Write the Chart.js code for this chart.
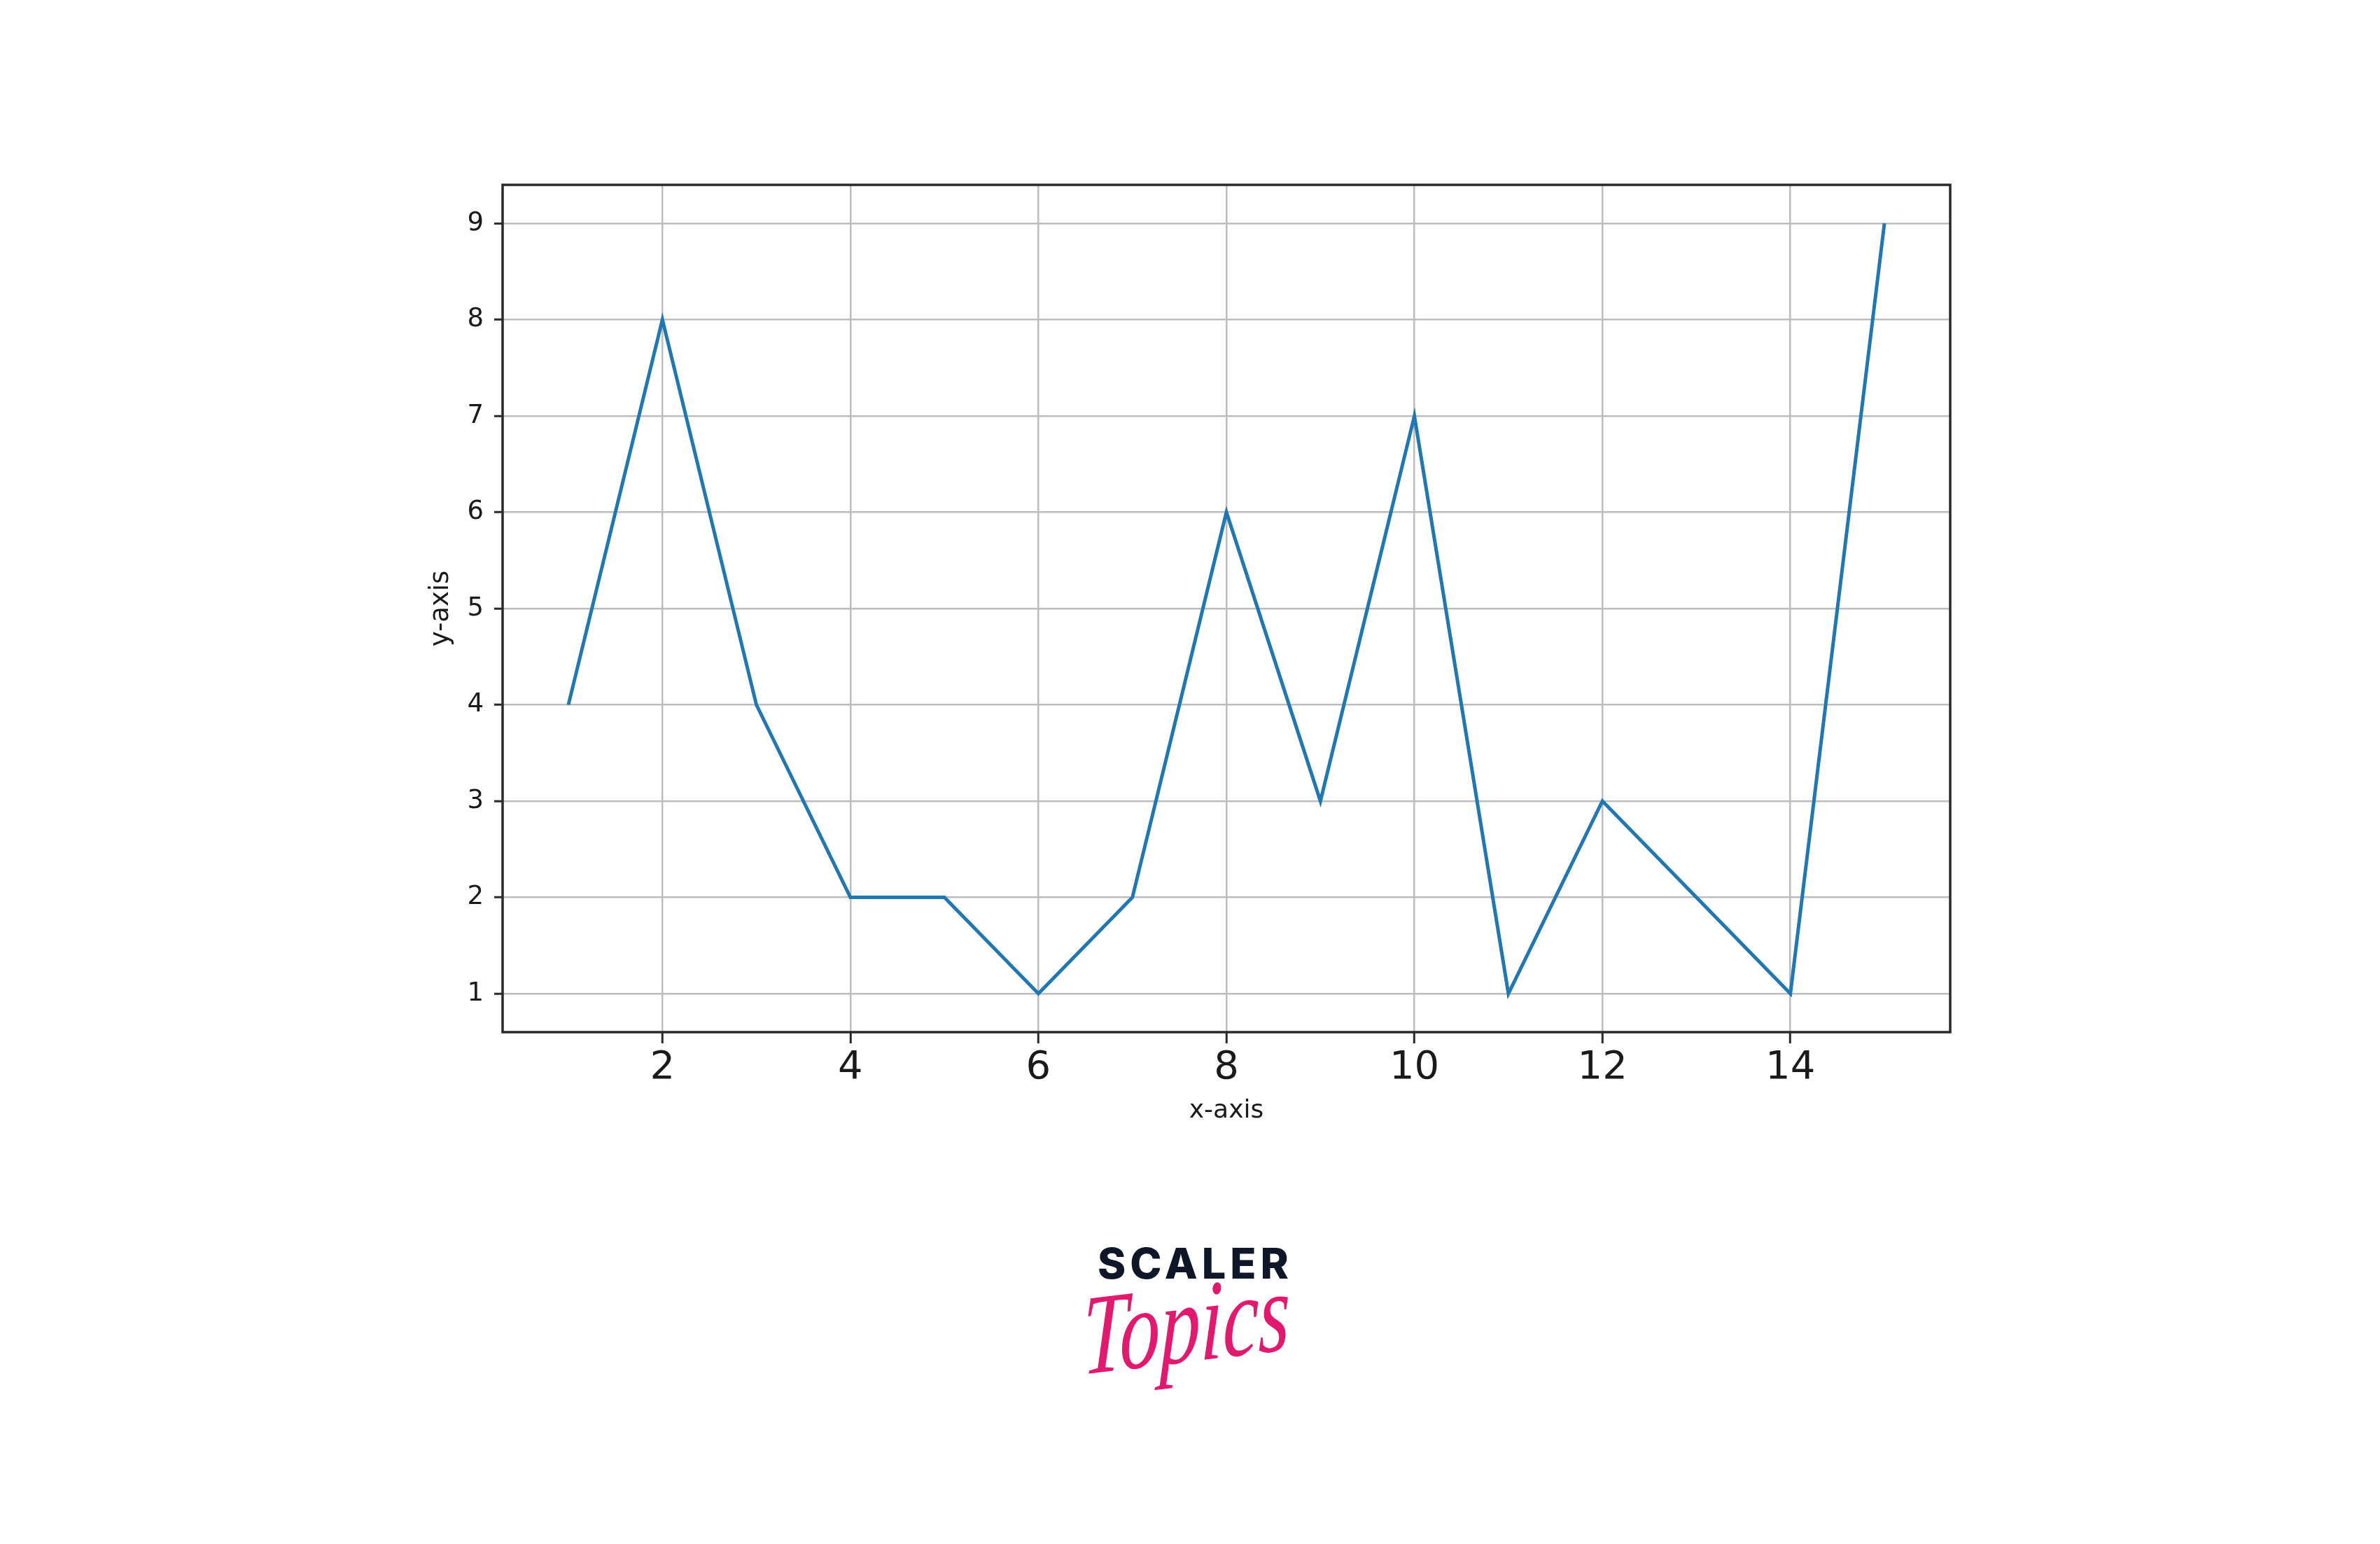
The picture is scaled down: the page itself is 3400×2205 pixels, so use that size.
<!DOCTYPE html>
<html>
<head>
<meta charset="utf-8">
<title>Line plot</title>
<script src="https://cdn.jsdelivr.net/npm/chart.js@4.4.1/dist/chart.umd.min.js"></script>
<style>
    html, body { margin: 0; padding: 0; background: #ffffff; }
    #wrap { position: relative; width: 3400px; height: 2205px; }
    #plot { position: absolute; left: 0; top: 0; }
    .brand-top {
        position: absolute; left: 1568px; top: 1774px;
        font-family: Inter, "DejaVu Sans", sans-serif; font-weight: 800;
        font-size: 61px; letter-spacing: 6px; color: #0e1628; line-height: 1;
    }
    .brand-bottom {
        position: absolute; left: 1548px; top: 1826px;
        font-family: "Liberation Serif", serif; font-style: italic;
        font-size: 116px; color: #e3196f; line-height: 1;
        transform: rotate(-7deg) skewX(-8deg) scaleY(1.4); transform-origin: left top;
    }
</style>
</head>
<body>
<div id="wrap">
    <canvas id="plot" width="3400" height="2205"></canvas>
    <div class="brand-top">SCALER</div>
    <div class="brand-bottom">Topics</div>
</div>
<script>
// data
const X_VALUES = [1, 2, 3, 4, 5, 6, 7, 8, 9, 10, 11, 12, 13, 14, 15];
const Y_VALUES = [4, 8, 4, 2, 2, 1, 2, 6, 3, 7, 1, 3, 2, 1, 9];
const X_TICKS = [2, 4, 6, 8, 10, 12, 14];
const Y_TICKS = [1, 2, 3, 4, 5, 6, 7, 8, 9];
const X_LABEL = 'x-axis';
const Y_LABEL = 'y-axis';

(function() {
    'use strict';

    const COLORS = {
        line: '#1f77b4',
        grid: '#bdbdbd',
        spine: '#2a2a2a',
        text: '#1a1a1a'
    };

    Chart.defaults.font.family = '"DejaVu Sans", sans-serif';
    Chart.defaults.color = COLORS.text;

    // matplotlib style frame around the plot area
    const frame = {
        id: 'frame',
        afterDraw: function(chart) {
            const a = chart.chartArea;
            const ctx = chart.ctx;
            ctx.save();
            ctx.strokeStyle = COLORS.spine;
            ctx.lineWidth = 3.5;
            ctx.strokeRect(a.left, a.top, a.right - a.left, a.bottom - a.top);
            ctx.restore();
        }
    };

    const ctx = document.getElementById('plot').getContext('2d');

    new Chart(ctx, {
        type: 'line',
        data: {
            datasets: [{
                data: X_VALUES.map((x, i) => ({ x: x, y: Y_VALUES[i] })),
                borderColor: COLORS.line,
                borderWidth: 5,
                pointRadius: 0,
                tension: 0,
                fill: false
            }]
        },
        options: {
            responsive: false,
            animation: false,
            devicePixelRatio: 1,
            layout: {
                padding: { left: 608, right: 614, top: 264, bottom: 597 }
            },
            plugins: {
                legend: { display: false },
                tooltip: { enabled: false }
            },
            scales: {
                x: {
                    type: 'linear',
                    min: 0.3,
                    max: 15.7,
                    afterBuildTicks: function(axis) {
                        axis.ticks = X_TICKS.map(v => ({ value: v }));
                    },
                    afterFit: function(axis) {
                        axis.height = 134;
                    },
                    border: { display: false },
                    grid: {
                        color: COLORS.grid,
                        lineWidth: 2.5,
                        tickLength: 16,
                        tickColor: COLORS.spine,
                        tickWidth: 3
                    },
                    ticks: {
                        padding: 2,
                        maxRotation: 0,
                        autoSkip: false,
                        font: { size: 56 },
                        callback: v => String(v)
                    },
                    title: {
                        display: true,
                        text: X_LABEL,
                        font: { size: 36 },
                        padding: 0
                    }
                },
                y: {
                    type: 'linear',
                    min: 0.6,
                    max: 9.4,
                    afterBuildTicks: function(axis) {
                        axis.ticks = Y_TICKS.map(v => ({ value: v }));
                    },
                    afterFit: function(axis) {
                        axis.width = 110;
                    },
                    border: { display: false },
                    grid: {
                        color: COLORS.grid,
                        lineWidth: 2.5,
                        tickLength: 12,
                        tickColor: COLORS.spine,
                        tickWidth: 3
                    },
                    ticks: {
                        padding: 15,
                        autoSkip: false,
                        font: { size: 37 },
                        callback: v => String(v)
                    },
                    title: {
                        display: true,
                        text: Y_LABEL,
                        font: { size: 37 },
                        padding: 0
                    }
                }
            }
        },
        plugins: [frame]
    });
})();
</script>
</body>
</html>
